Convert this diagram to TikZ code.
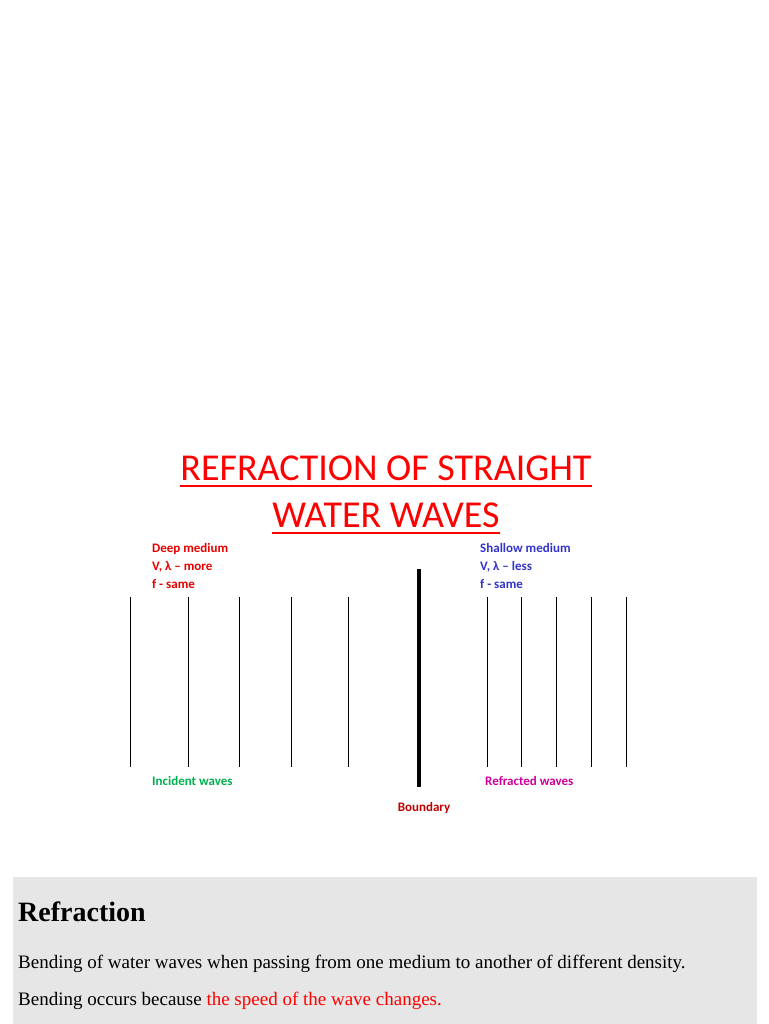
\documentclass[tikz,border=0pt]{standalone}
\usepackage{fontspec}
\setmainfont{Carlito}
\newfontfamily\bodyfont{Liberation Serif}
\usetikzlibrary{calc}
\definecolor{titlered}{RGB}{255,0,0}
\definecolor{deepred}{RGB}{230,0,0}
\definecolor{shallowblue}{RGB}{51,51,204}
\definecolor{incgreen}{RGB}{0,176,80}
\definecolor{refmag}{RGB}{204,0,153}
\definecolor{bndred}{RGB}{192,0,0}
\definecolor{boxgray}{RGB}{230,230,230}
\tikzset{
  wave/.style={line width=1pt},
  lbl/.style={font=\fontsize{13}{18}\selectfont\bfseries, anchor=west, inner sep=0pt, align=left},
  body/.style={font=\bodyfont\fontsize{19}{22}\selectfont, anchor=west, inner sep=0pt},
  ttl/.style={titlered, font=\fontsize{38}{46}\selectfont, inner sep=0pt, anchor=base},
  uline/.style={titlered, line width=1.5pt}
}
\begin{document}
\begin{tikzpicture}[x=1pt,y=-1pt]
\useasboundingbox (0,0) rectangle (768,1024);
\fill[white] (0,0) rectangle (768,1024);
\node[ttl] (t1) at (386,480) {REFRACTION OF STRAIGHT};
\node[ttl] (t2) at (386,527) {WATER WAVES};
\draw[uline] ($(t1.base west)+(0,6)$) -- ($(t1.base east)+(0,6)$);
\draw[uline] ($(t2.base west)+(0,6)$) -- ($(t2.base east)+(0,6)$);
\node[lbl, deepred, anchor=north west] (deep) at (152,543) {Deep medium\\V, λ – more\\f - same};
\node[lbl, shallowblue, anchor=north west] (shallow) at (480,543) {Shallow medium\\V, λ – less\\f - same};
\foreach \x/\n in {130/a,188/b,239/c,291/d,348/e,487/f,521/g,556/h,591/i,626/j}
  \draw[wave] (\x,597) coordinate (\n1) -- (\x,767) coordinate (\n2);
\draw[line width=4pt] (419,569) coordinate (b1) -- (419,787) coordinate (b2);
\node[lbl, incgreen] (inc) at (152,781) {Incident waves};
\node[lbl, refmag] (refr) at (485,781) {Refracted waves};
\node[lbl, bndred, anchor=center] (bnd) at (424,808) {Boundary};
\fill[boxgray] (13,877) rectangle (757,1024);
\node[body, font=\bodyfont\fontsize{28}{32}\selectfont\bfseries] (head) at (18,912) {Refraction};
\node[body] (l1) at (18,964) {Bending of water waves when passing from one medium to another of different density.};
\node[body] (l2) at (18,1001) {Bending occurs because \textcolor{titlered}{the speed of the wave changes.}};
\end{tikzpicture}
\end{document}
